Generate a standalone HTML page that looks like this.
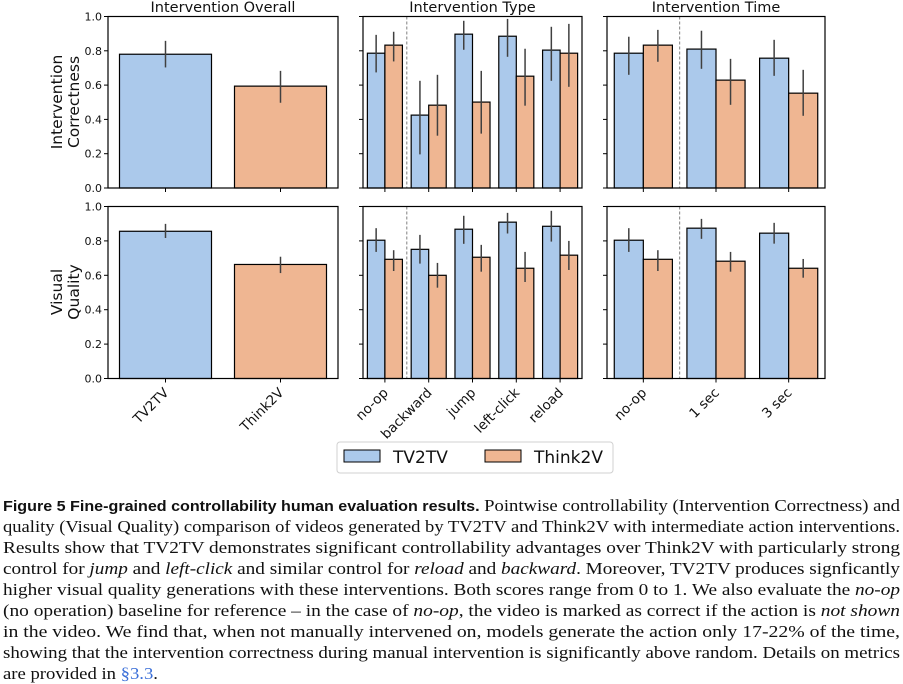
<!DOCTYPE html>
<html><head><meta charset="utf-8"><style>
html,body{margin:0;padding:0;background:#fff;}
svg{display:block;}
text{font-family:"DejaVu Sans","Liberation Sans",sans-serif;fill:#111;}
.cap{font-family:"Liberation Serif",serif;font-size:16.8px;}
</style></head><body>
<svg id="fig" width="903" height="684" viewBox="0 0 903 684" xmlns="http://www.w3.org/2000/svg">
<g id="plots"></g>
<g>
<rect x="337" y="442" width="276" height="31" rx="3" fill="#fff" stroke="#d0d0d0"/>
<rect x="344" y="450" width="36" height="12" fill="#abc9eb" stroke="#000"/>
<text x="393" y="463" font-size="17">TV2TV</text>
<rect x="485" y="450" width="36" height="12" fill="#efb692" stroke="#000"/>
<text x="534" y="463" font-size="17">Think2V</text>
</g>
<g>
<text class="cap" x="3" y="511" textLength="897" lengthAdjust="spacingAndGlyphs"><tspan font-family="Liberation Sans, sans-serif" font-weight="bold" font-size="14.5">Figure 5  Fine-grained controllability human evaluation results.</tspan> Pointwise controllability (Intervention Correctness) and</text>
<text class="cap" x="3" y="532" textLength="897" lengthAdjust="spacingAndGlyphs">quality (Visual Quality) comparison of videos generated by TV2TV and Think2V with intermediate action interventions.</text>
<text class="cap" x="3" y="553" textLength="897" lengthAdjust="spacingAndGlyphs">Results show that TV2TV demonstrates significant controllability advantages over Think2V with particularly strong</text>
<text class="cap" x="3" y="574" textLength="897" lengthAdjust="spacingAndGlyphs">control for <tspan font-style="italic">jump</tspan> and <tspan font-style="italic">left-click</tspan> and similar control for <tspan font-style="italic">reload</tspan> and <tspan font-style="italic">backward</tspan>. Moreover, TV2TV produces signficantly</text>
<text class="cap" x="3" y="595" textLength="897" lengthAdjust="spacingAndGlyphs">higher visual quality generations with these interventions. Both scores range from 0 to 1. We also evaluate the <tspan font-style="italic">no-op</tspan></text>
<text class="cap" x="3" y="616" textLength="897" lengthAdjust="spacingAndGlyphs">(no operation) baseline for reference – in the case of <tspan font-style="italic">no-op</tspan>, the video is marked as correct if the action is <tspan font-style="italic">not shown</tspan></text>
<text class="cap" x="3" y="637" textLength="897" lengthAdjust="spacingAndGlyphs">in the video. We find that, when not manually intervened on, models generate the action only 17-22% of the time,</text>
<text class="cap" x="3" y="658" textLength="897" lengthAdjust="spacingAndGlyphs">showing that the intervention correctness during manual intervention is significantly above random. Details on metrics</text>
<text class="cap" x="3" y="679" textLength="155" lengthAdjust="spacingAndGlyphs">are provided in <tspan fill="#3b6fd8">§3.3</tspan>.</text>
</g>
</svg>
<script>
// ---- data ----
const overallCats = ["TV2TV", "Think2V"];
const overallCorr = [0.78, 0.594];
const overallCorrLo = [0.703, 0.497];
const overallCorrHi = [0.858, 0.683];
const overallVis = [0.856, 0.663];
const overallVisLo = [0.817, 0.613];
const overallVisHi = [0.899, 0.708];

const typeCats = ["no-op", "backward", "jump", "left-click", "reload"];
const typeCorrTV = [0.786, 0.425, 0.897, 0.885, 0.804];
const typeCorrTVLo = [0.674, 0.196, 0.806, 0.765, 0.625];
const typeCorrTVHi = [0.893, 0.625, 0.975, 0.986, 0.94];
const typeCorrTK = [0.833, 0.483, 0.501, 0.652, 0.786];
const typeCorrTKLo = [0.738, 0.305, 0.317, 0.48, 0.59];
const typeCorrTKHi = [0.911, 0.66, 0.683, 0.812, 0.957];
const typeVisTV = [0.804, 0.751, 0.868, 0.909, 0.885];
const typeVisTVLo = [0.736, 0.668, 0.783, 0.843, 0.796];
const typeVisTVHi = [0.874, 0.835, 0.946, 0.963, 0.975];
const typeVisTK = [0.693, 0.6, 0.705, 0.641, 0.717];
const typeVisTKLo = [0.625, 0.528, 0.621, 0.561, 0.631];
const typeVisTKHi = [0.746, 0.672, 0.777, 0.736, 0.8];

const timeCats = ["no-op", "1 sec", "3 sec"];
const timeCorrTV = [0.786, 0.81, 0.757];
const timeCorrTVLo = [0.66, 0.695, 0.654];
const timeCorrTVHi = [0.882, 0.917, 0.864];
const timeCorrTK = [0.833, 0.629, 0.553];
const timeCorrTKLo = [0.736, 0.485, 0.421];
const timeCorrTKHi = [0.922, 0.753, 0.689];
const timeVisTV = [0.804, 0.874, 0.845];
const timeVisTVLo = [0.736, 0.812, 0.784];
const timeVisTVHi = [0.874, 0.928, 0.905];
const timeVisTK = [0.693, 0.682, 0.641];
const timeVisTKLo = [0.625, 0.621, 0.586];
const timeVisTKHi = [0.746, 0.736, 0.695];

const yTicks = [0.0, 0.2, 0.4, 0.6, 0.8, 1.0];
const titles = ["Intervention Overall", "Intervention Type", "Intervention Time"];

// ---- layout ----
const NS = "http://www.w3.org/2000/svg";
const root = document.getElementById("plots");
const BLUE = "#abc9eb", ORANGE = "#efb692";
const cols = [[108, 338], [363, 582], [607, 825]];
const rows = [[16.5, 188], [206.5, 378.5]];

function mk(tag, attrs, parent) {
  const e = document.createElementNS(NS, tag);
  for (const k in attrs) e.setAttribute(k, attrs[k]);
  (parent || root).appendChild(e);
  return e;
}

function panel(ci, ri, cats, series, dashed, name) {
  const [x0, x1] = cols[ci], [yt, yb] = rows[ri];
  const g = mk("g", {});
  
  
  const n = cats.length, step = (x1 - x0) / n;
  const xs = i => x0 + step * (i + 0.5);
  const ys = v => yb - v * (yb - yt);
  series.forEach((s, si) => {
    s.vals.forEach((v, i) => {
      let bx, bw;
      if (s.single) { if (i !== si) return; bw = step * 0.8; bx = xs(si) - bw / 2; }
      else { bw = step * 0.4; bx = xs(i) - step * 0.4 + si * bw; }
      const r = mk("rect", { x: bx, y: ys(v), width: bw, height: ys(0) - ys(v), fill: s.color, stroke: "#000", "stroke-width": 1.2 }, g);
      
      
      const cx = bx + bw / 2;
      const el = mk("line", { x1: cx, x2: cx, y1: ys(s.lo[i]), y2: ys(s.hi[i]), stroke: "#404040", "stroke-width": 1.5 }, g);
      
      
    });
  });
  if (dashed) {
    const dx = x0 + step;
    const d = mk("line", { x1: dx, x2: dx, y1: yt, y2: yb, stroke: "#808080", "stroke-width": 1, "stroke-dasharray": "3,2" }, g);
    
    
  }
  const fr = mk("rect", { x: x0, y: yt, width: x1 - x0, height: yb - yt, fill: "none", stroke: "#000", "stroke-width": 1.2 }, g);
  
  
  yTicks.forEach(t => {
    mk("line", { x1: x0 - 4, x2: x0, y1: ys(t), y2: ys(t), stroke: "#000", "stroke-width": 1 }, g);
    if (ci === 0) {
      const tl = mk("text", { x: x0 - 6, y: ys(t) + 4, "text-anchor": "end", "font-size": 11 }, g);
      tl.textContent = t.toFixed(1);
      
      
    }
  });
  cats.forEach((c, i) => {
    mk("line", { x1: xs(i), x2: xs(i), y1: yb, y2: yb + 4, stroke: "#000", "stroke-width": 1 }, g);
    if (ri === 1) {
      const tx = xs(i) + 4, ty = yb + 15;
      const tl = mk("text", { x: tx, y: ty, "text-anchor": "end", "font-size": 13.5, transform: "rotate(-45 " + tx + " " + ty + ")" }, g);
      tl.textContent = c;
      
      
    }
  });
  if (ri === 0) {
    const tt = mk("text", { x: (x0 + x1) / 2, y: 12, "text-anchor": "middle", "font-size": 14.5 }, g);
    tt.textContent = titles[ci];
    
    
  }
}

panel(0, 0, overallCats, [
  { key: "tv2tv", vals: overallCorr, lo: overallCorrLo, hi: overallCorrHi, color: BLUE, single: true },
  { key: "think2v", vals: overallCorr, lo: overallCorrLo, hi: overallCorrHi, color: ORANGE, single: true }
], false, "overall-correctness-panel");
panel(0, 1, overallCats, [
  { key: "tv2tv", vals: overallVis, lo: overallVisLo, hi: overallVisHi, color: BLUE, single: true },
  { key: "think2v", vals: overallVis, lo: overallVisLo, hi: overallVisHi, color: ORANGE, single: true }
], false, "overall-quality-panel");
panel(1, 0, typeCats, [
  { key: "tv2tv", vals: typeCorrTV, lo: typeCorrTVLo, hi: typeCorrTVHi, color: BLUE },
  { key: "think2v", vals: typeCorrTK, lo: typeCorrTKLo, hi: typeCorrTKHi, color: ORANGE }
], true, "type-correctness-panel");
panel(1, 1, typeCats, [
  { key: "tv2tv", vals: typeVisTV, lo: typeVisTVLo, hi: typeVisTVHi, color: BLUE },
  { key: "think2v", vals: typeVisTK, lo: typeVisTKLo, hi: typeVisTKHi, color: ORANGE }
], true, "type-quality-panel");
panel(2, 0, timeCats, [
  { key: "tv2tv", vals: timeCorrTV, lo: timeCorrTVLo, hi: timeCorrTVHi, color: BLUE },
  { key: "think2v", vals: timeCorrTK, lo: timeCorrTKLo, hi: timeCorrTKHi, color: ORANGE }
], true, "time-correctness-panel");
panel(2, 1, timeCats, [
  { key: "tv2tv", vals: timeVisTV, lo: timeVisTVLo, hi: timeVisTVHi, color: BLUE },
  { key: "think2v", vals: timeVisTK, lo: timeVisTKLo, hi: timeVisTKHi, color: ORANGE }
], true, "time-quality-panel");

function ylab(lines, cy, name) {
  const t = mk("text", { "font-size": 15.5, "text-anchor": "middle", transform: "translate(64 " + cy + ") rotate(-90)" });
  
  
  lines.forEach((l, i) => {
    const s = mk("tspan", { x: 0, y: (i === 0 ? -2 : 15) }, t);
    s.textContent = l;
  });
}
ylab(["Intervention", "Correctness"], 102, "y-axis-title-correctness");
ylab(["Visual", "Quality"], 292, "y-axis-title-quality");
</script>
</body></html>
